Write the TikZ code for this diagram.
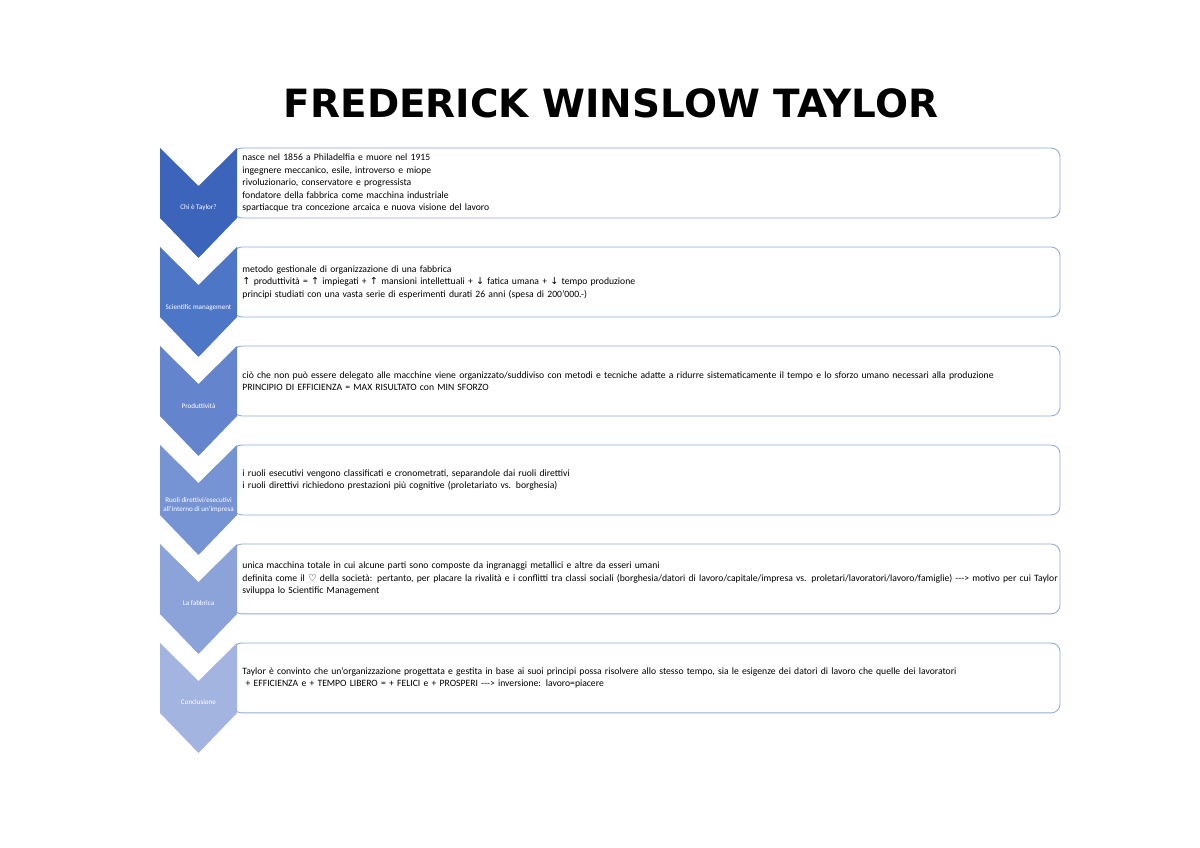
\documentclass[tikz,border=0pt]{standalone}
\usepackage{fontspec}
\setmainfont{Carlito}
\newfontfamily\titlefont{DejaVu Sans}
\newfontfamily\symfont{DejaVu Sans}
\usepackage{xcolor}
\usepackage{tikz}
\usetikzlibrary{positioning}
\definecolor{chevA}{RGB}{60,100,186}
\definecolor{chevB}{RGB}{78,118,198}
\definecolor{chevC}{RGB}{100,133,205}
\definecolor{chevD}{RGB}{118,147,211}
\definecolor{chevE}{RGB}{140,163,217}
\definecolor{chevF}{RGB}{164,180,224}
\definecolor{boxline}{RGB}{143,170,220}
\newcommand{\up}{{\symfont\char"2191}}
\newcommand{\down}{{\symfont\char"2193}}
\newcommand{\heart}{{\symfont\char"2661}}
\newcommand{\then}{-{}-{}->}
\tikzset{
	x=0.02475cm,
	y=-0.02475cm,
	node distance=2.45cm,
	on grid,
	textbox/.style={draw=boxline, fill=white, rounded corners=0.22cm, line width=0.6pt,
		minimum width=20.47cm, minimum height=1.73cm, text width=20.0cm,
		inner xsep=0.235cm, align=left, font=\fontsize{6.8}{8.8}\selectfont},
	chevlabel/.style={text=white, align=center, font=\fontsize{5}{5.8}\selectfont},
}
\begin{document}
\begin{tikzpicture}
      \useasboundingbox (0,0) rectangle (1200,848);
      \node (title) at (611,103) {\titlefont\bfseries\fontsize{27.4}{32}\selectfont FREDERICK WINSLOW TAYLOR};

      % text boxes
      \node[textbox] (1) at (646.5,183) {nasce nel 1856 a Philadelfia e muore nel 1915\\
        ingegnere meccanico, esile, introverso e miope\\
        rivoluzionario, conservatore e progressista\\
        fondatore della fabbrica come macchina industriale\\
        spartiacque tra concezione arcaica e nuova visione del lavoro};
      \node[textbox, below=of 1] (2) {metodo gestionale di organizzazione di una fabbrica\\
        \up{} produttività = \up{} impiegati + \up{} mansioni intellettuali + \down{} fatica umana + \down{} tempo produzione\\
        principi studiati con una vasta serie di esperimenti durati 26 anni (spesa di 200'000.-)};
      \node[textbox, below=of 2] (3) {\mbox{ciò che non può essere delegato alle macchine viene organizzato/suddiviso con metodi e tecniche adatte a ridurre sistematicamente il tempo e lo sforzo umano necessari alla produzione}\\
        PRINCIPIO DI EFFICIENZA = MAX RISULTATO con MIN SFORZO};
      \node[textbox, below=of 3] (4) {i ruoli esecutivi vengono classificati e cronometrati, separandole dai ruoli direttivi\\
        i ruoli direttivi richiedono prestazioni più cognitive (proletariato vs. borghesia)};
      \node[textbox, below=of 4] (5) {unica macchina totale in cui alcune parti sono composte da ingranaggi metallici e altre da esseri umani\\
        \mbox{definita come il \heart{} della società: pertanto, per placare la rivalità e i conflitti tra classi sociali (borghesia/datori di lavoro/capitale/impresa vs. proletari/lavoratori/lavoro/famiglie) \then{} motivo per cui Taylor}\\
        sviluppa lo Scientific Management};
      \node[textbox, below=of 5] (6) {\mbox{Taylor è convinto che un'organizzazione progettata e gestita in base ai suoi principi possa risolvere allo stesso tempo, sia le esigenze dei datori di lavoro che quelle dei lavoratori}\\
        \ + EFFICIENZA e + TEMPO LIBERO = + FELICI e + PROSPERI \then{} inversione: lavoro=piacere};

      % chevrons
      \fill[chevA] (160,148) -- ++(38.5,38) -- ++(38.5,-38) -- ++(0,70) -- ++(-38.5,40) -- ++(-38.5,-40) -- cycle;
      \fill[chevB] (160,247) -- ++(38.5,38) -- ++(38.5,-38) -- ++(0,70) -- ++(-38.5,40) -- ++(-38.5,-40) -- cycle;
      \fill[chevC] (160,346) -- ++(38.5,38) -- ++(38.5,-38) -- ++(0,70) -- ++(-38.5,40) -- ++(-38.5,-40) -- cycle;
      \fill[chevD] (160,445) -- ++(38.5,38) -- ++(38.5,-38) -- ++(0,70) -- ++(-38.5,40) -- ++(-38.5,-40) -- cycle;
      \fill[chevE] (160,544) -- ++(38.5,38) -- ++(38.5,-38) -- ++(0,70) -- ++(-38.5,40) -- ++(-38.5,-40) -- cycle;
      \fill[chevF] (160,643) -- ++(38.5,38) -- ++(38.5,-38) -- ++(0,70) -- ++(-38.5,40) -- ++(-38.5,-40) -- cycle;

      \node[chevlabel] (who)  at (198.5,208) {Chi è Taylor?};
      \node[chevlabel] (sm)   at (198.5,308) {Scientific management};
      \node[chevlabel] (prod) at (198.5,406) {Produttività};
      \node[chevlabel] (roles) at (198.5,505) {Ruoli direttivi/esecutivi\\all'interno di un'impresa};
      \node[chevlabel] (fab)  at (198.5,603) {La fabbrica};
      \node[chevlabel] (end)  at (198.5,702) {Conclusione};
\end{tikzpicture}
\end{document}
